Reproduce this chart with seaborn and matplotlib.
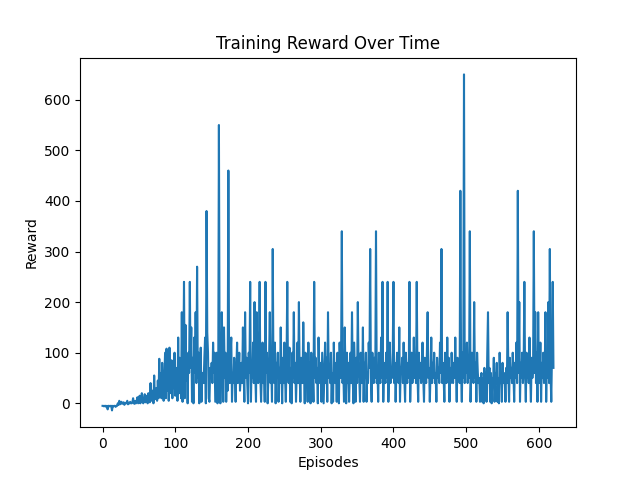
import matplotlib
matplotlib.use("Agg")
import matplotlib.pyplot as plt
import seaborn as sns
import numpy as np

rewards = [
-5,-5,-6,-5,-5,-7,-5,-12,-5,-5,-6,-5,-5,-14,-5,-6,-5,-5,-7,-5,
-5,0,-3,5,-2,0,3,-1,0,2,-3,0,1,0,5,-2,0,0,3,0,
0,2,10,0,-1,5,0,3,12,0,2,15,0,5,20,3,0,8,18,2,
5,15,0,20,10,2,40,5,10,25,0,55,8,20,30,5,45,10,88,20,
60,10,80,30,5,50,100,10,108,25,60,5,110,40,20,85,10,60,30,100,
15,40,70,5,130,20,90,50,10,180,3,60,240,10,155,45,80,0,100,60,
240,70,150,3,90,0,130,60,180,40,270,50,100,0,70,110,3,60,60,40,
90,130,0,380,140,100,10,3,70,50,80,40,120,60,100,3,50,100,0,10,
550,60,0,40,180,90,3,150,50,100,3,60,25,460,80,40,100,130,3,60,
40,90,50,3,70,120,40,60,100,25,50,80,40,150,60,3,180,50,90,40,
0,100,60,240,3,80,50,120,40,200,60,3,180,70,40,100,240,50,3,60,
120,40,80,3,240,60,100,0,50,90,180,40,70,3,305,60,40,120,0,80,
50,100,3,70,40,150,60,0,90,40,120,50,3,80,240,60,40,110,3,70,
0,100,50,180,40,80,3,60,120,40,200,60,3,90,50,40,160,70,0,100,
40,60,3,120,50,80,0,100,40,60,3,240,50,90,40,70,0,130,60,40,
80,3,100,50,0,60,120,40,90,3,180,50,70,40,100,0,60,3,120,50,
40,80,3,100,60,0,120,50,90,340,40,70,3,150,60,0,100,40,80,3,
60,100,40,180,50,0,120,60,3,90,40,200,70,50,3,100,60,40,150,3,
80,50,100,3,60,40,120,70,305,50,3,100,60,40,90,50,340,40,70,3,
100,60,40,130,50,240,3,80,60,40,100,50,240,3,70,120,40,60,50,100,
240,40,80,3,60,100,50,40,150,3,70,60,90,40,120,50,3,100,60,40,
80,50,240,3,70,100,40,60,130,50,90,40,240,60,3,100,50,80,40,60,
120,50,3,90,60,40,100,180,50,70,3,60,130,40,80,50,100,40,60,3,
90,50,70,40,120,60,305,40,80,50,3,100,60,40,130,50,90,3,70,40,
100,60,40,80,50,130,60,3,90,50,70,40,420,60,3,100,50,650,40,80,
60,120,40,90,50,340,3,70,100,60,40,200,50,80,3,100,60,40,50,3,
40,60,3,50,0,70,40,60,3,100,180,40,70,3,60,0,50,40,90,3,
60,40,80,3,50,0,100,40,60,3,80,40,60,50,3,70,40,180,60,3,
90,50,70,40,100,60,3,80,50,120,40,420,60,200,3,80,50,100,40,70,
240,60,3,100,50,80,40,130,60,3,90,50,70,340,60,180,40,100,3,180,
60,40,120,3,80,50,100,40,60,180,3,90,50,200,40,305,60,3,100,240,
70]
episodes = np.arange(len(rewards))

fig, ax = plt.subplots(figsize=(6.4, 4.8), dpi=100)
sns.lineplot(x=episodes, y=rewards, ax=ax, color="#1f77b4")
ax.set_title("Training Reward Over Time")
ax.set_xlabel("Episodes")
ax.set_ylabel("Reward")
fig.savefig("out.png")
